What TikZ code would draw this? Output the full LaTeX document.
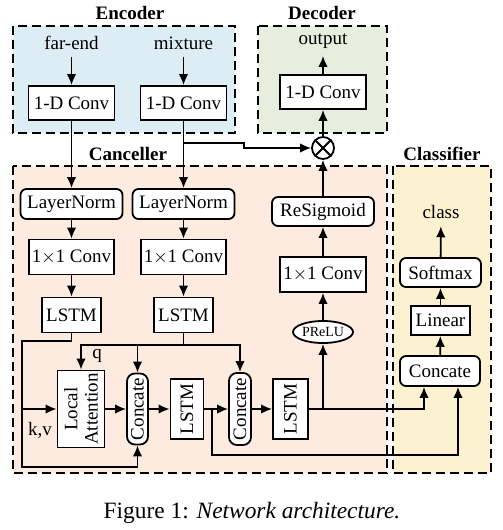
\documentclass[tikz,border=0pt]{standalone}
\usepackage{fontspec}
\setmainfont{Liberation Serif}
\usetikzlibrary{arrows.meta,shapes.geometric}
\definecolor{encbg}{RGB}{220,238,244}
\definecolor{decbg}{RGB}{232,238,222}
\definecolor{canbg}{RGB}{252,235,222}
\definecolor{clsbg}{RGB}{252,241,208}

\begin{document}
\begin{tikzpicture}[x=0.5pt, y=-0.5pt, line width=0.9pt,
        >={Latex[length=5.5pt,width=4.8pt]},
        font=\fontsize{9.5}{10}\selectfont,
        region/.style={draw, dash pattern=on 4.5pt off 2.5pt},
        title/.style={font=\fontsize{9.5}{10}\selectfont\bfseries},
        box/.style={draw, fill=white, inner sep=0pt},
        rbox/.style={box, rounded corners=3pt},
        vbox/.style={box, rotate=90}]
        \useasboundingbox (0,0) rectangle (503,530);

        % regions
        \filldraw[region, fill=encbg] (13,26) rectangle (235,133);
        \filldraw[region, fill=decbg] (258,26) rectangle (387,133);
        \filldraw[region, fill=canbg] (13,166) rectangle (387,473);
        \filldraw[region, fill=clsbg] (393,166) rectangle (491,473);
        \node[title] (enctitle) at (130,13) {Encoder};
        \node[title] (dectitle) at (322,13) {Decoder};
        \node[title] (cantitle) at (128,154) {Canceller};
        \node[title] (clstitle) at (442,154) {Classifier};

        % encoder
        \node (farend) at (71.5,43) {far-end};
        \node (mixture) at (183.5,43) {mixture};
        \node[box, minimum width=43pt, minimum height=17pt] (encL) at (71.5,103) {1-D Conv};
        \node[box, minimum width=43pt, minimum height=17pt] (encR) at (183.5,103) {1-D Conv};
        \draw[->] (farend) -- (encL);
        \draw[->] (mixture) -- (encR);

        % decoder
        \node (output) at (323,41) {output};
        \node[box, minimum width=43pt, minimum height=17pt] (dec) at (323,92) {1-D Conv};
        \node[draw, circle, fill=white, minimum size=11pt, inner sep=0pt] (mult) at (323,148) {};
        \draw (mult.north west) -- (mult.south east) (mult.north east) -- (mult.south west);
        \draw[->] (mult) -- (dec);
        \draw[->] (dec) -- (output);

        % canceller
        \node[rbox, minimum width=51pt, minimum height=15pt] (lnL) at (71.5,204) {LayerNorm};
        \node[rbox, minimum width=51pt, minimum height=15pt] (lnR) at (183.5,204) {LayerNorm};
        \node[box, minimum width=42.5pt, minimum height=17.5pt] (cvL) at (71.5,257) {1$\times$1 Conv};
        \node[box, minimum width=42.5pt, minimum height=17.5pt] (cvR) at (183.5,257) {1$\times$1 Conv};
        \node[box, minimum width=29.5pt, minimum height=17.5pt] (lsL) at (71.5,315) {LSTM};
        \node[box, minimum width=29.5pt, minimum height=17.5pt] (lsR) at (183.5,315) {LSTM};

        \node[vbox, minimum width=38.5pt, minimum height=23.5pt, align=center] (att) at (81,409) {Local\\Attention};
        \node[vbox, rounded corners=4pt, minimum width=35.5pt, minimum height=10.5pt] (cc1) at (137.5,409) {Concate};
        \node[vbox, minimum width=30pt, minimum height=16.5pt] (ls2) at (187,409) {LSTM};
        \node[vbox, rounded corners=4pt, minimum width=36pt, minimum height=11pt] (cc2) at (240,409) {Concate};
        \node[vbox, minimum width=30pt, minimum height=17.5pt] (ls3) at (290.5,409) {LSTM};

        \node[draw, ellipse, fill=white, inner sep=0pt, minimum width=30pt, minimum height=11pt,
            font=\fontsize{7}{8}\selectfont] (prelu) at (323,332) {PReLU};
        \node[box, minimum width=43pt, minimum height=17.5pt] (cvO) at (323,274.5) {1$\times$1 Conv};
        \node[rbox, minimum width=51pt, minimum height=14.5pt] (rsg) at (323,211.5) {ReSigmoid};

        \node (q) at (97,356) {q};
        \node (kv) at (40,430) {k,v};

        \draw[->] (encL) -- (lnL);
        \draw[->] (encR) -- (lnR);
        \draw[->] (encR.south |- 0,143) -- (244,143) |- (mult);
        \draw[->] (lnL) -- (cvL);
        \draw[->] (lnR) -- (cvR);
        \draw[->] (cvL) -- (lsL);
        \draw[->] (cvR) -- (lsR);

        \draw[->] (lsL) |- (22,341) -- (22,467) -| (cc1);
        \draw[->] (22,409) -- (att);
        \draw (lsR) -- (lsR |- 0,345);
        \draw[->] (lsR |- 0,345) -| (att);
        \draw[->] (lsR |- 0,345) -| (cc1);
        \draw[->] (lsR |- 0,345) -| (cc2);
        \draw[->] (att) -- (cc1);
        \draw[->] (cc1) -- (ls2);
        \draw[->] (ls2) -- (cc2);
        \draw[->] (cc2) -- (ls3);

        \draw[->] (323,409) -- (prelu);
        \draw[->] (prelu) -- (cvO);
        \draw[->] (cvO) -- (rsg);
        \draw[->] (rsg) -- (mult);

        % classifier
        \node (cls) at (441,212) {class};
        \node[rbox, minimum width=40.5pt, minimum height=14.5pt] (soft) at (440.5,272.5) {Softmax};
        \node[box, minimum width=29.5pt, minimum height=14.5pt] (lin) at (440.5,320.5) {Linear};
        \node[rbox, minimum width=40pt, minimum height=15pt] (cat) at (440,371) {Concate};
        \draw[->] (cat) -- (lin);
        \draw[->] (lin) -- (soft);
        \draw[->] (soft) -- (cls);
        \draw[->] (ls3) -- (424,409) -- (cat.south -| 424,0);
        \draw[->] (212,409) |- (458,455) -- (cat.south -| 458,0);

        \node[font=\fontsize{11.7}{13}\selectfont] (caption) at (252,513) {Figure 1: \textit{Network architecture.}};
\end{tikzpicture}
\end{document}
